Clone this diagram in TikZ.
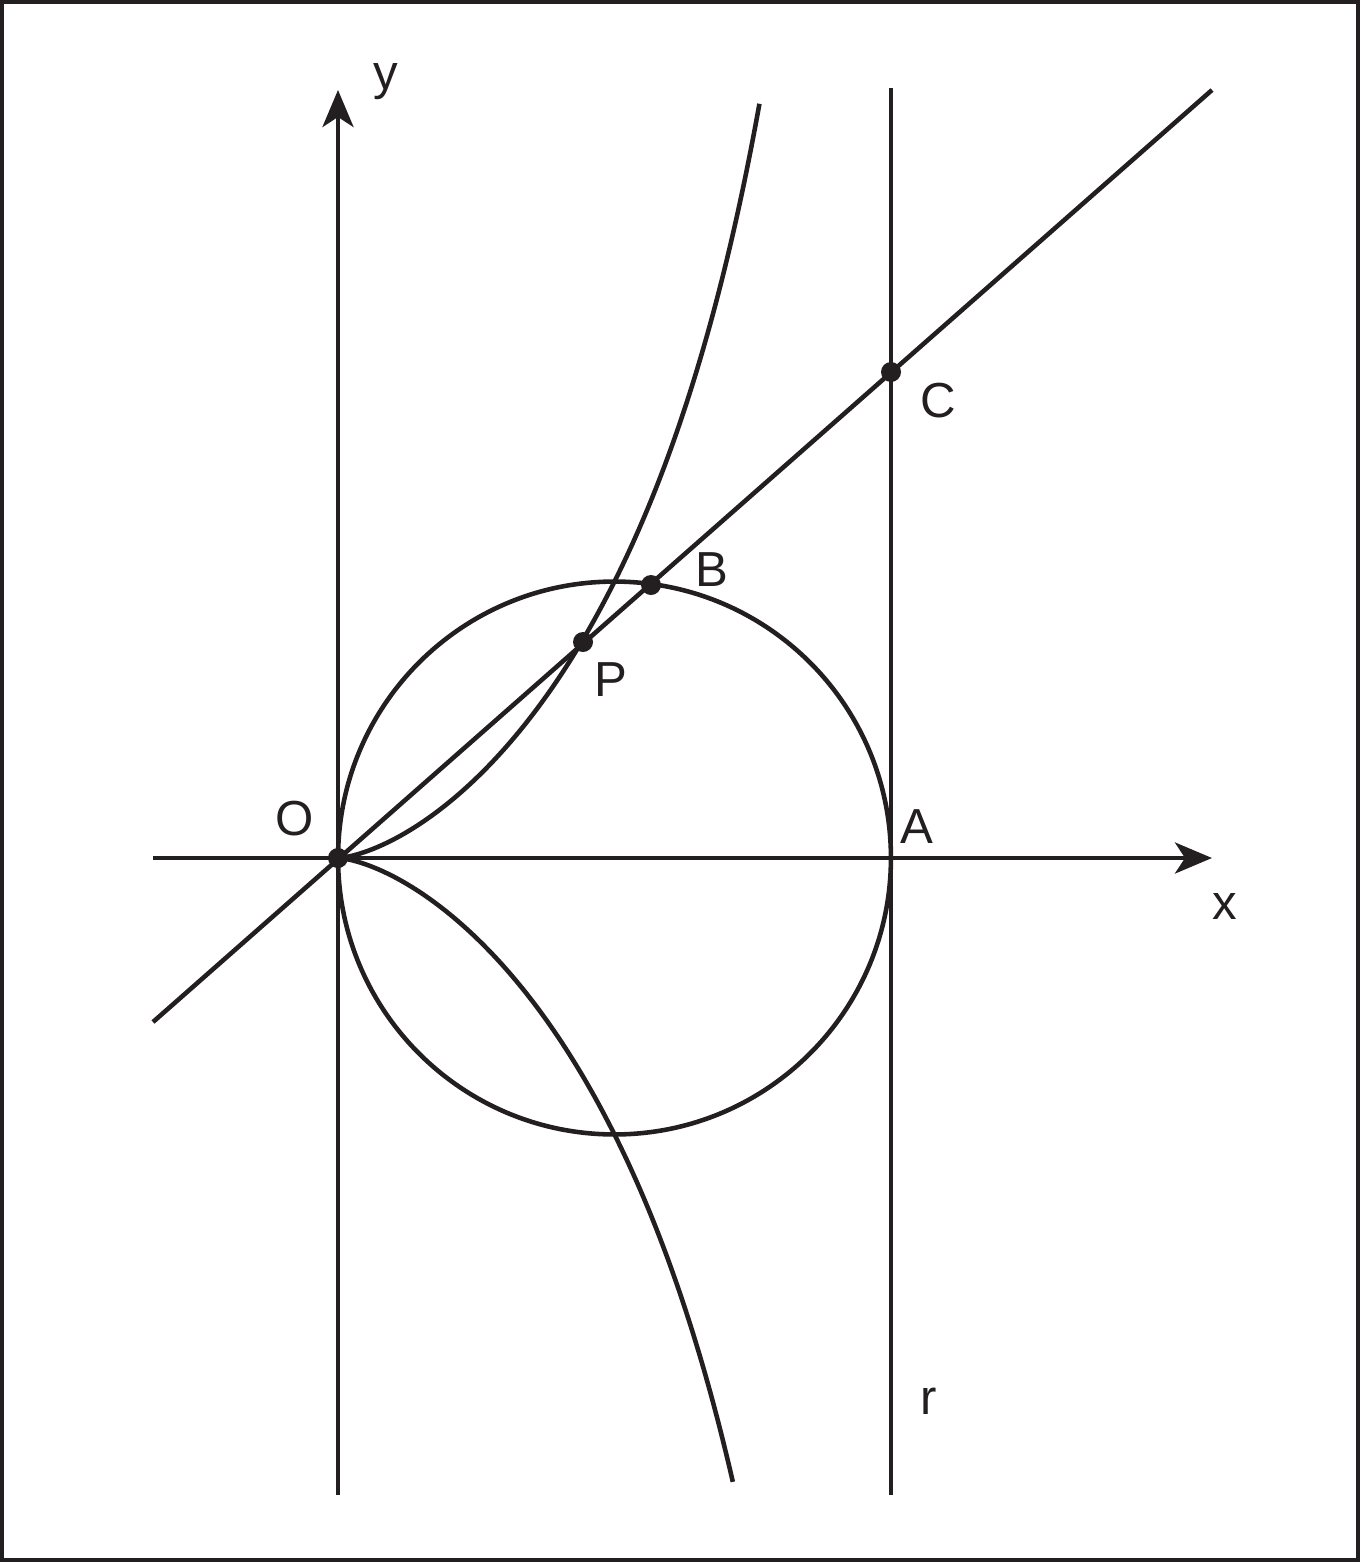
\documentclass[tikz,border=0pt]{standalone}
\usepackage{fontspec}
\setmainfont{Liberation Sans}
\usetikzlibrary{arrows.meta}
\definecolor{ink}{RGB}{35,31,32}
\begin{document}
\begin{tikzpicture}[x=0.02cm,y=-0.02cm,
  curve/.style={draw=ink,line width=2.6pt},
  axis/.style={curve,-{Stealth[length=0.74cm,width=0.62cm,inset=0.2cm]}},
  pt/.style={circle,fill=ink,inner sep=0pt,minimum size=0.4cm},
  lbl/.style={text=ink,inner sep=0pt,anchor=base,font=\fontsize{28}{34}\selectfont}]
\useasboundingbox (0,0) rectangle (1360,1562);
\draw[draw=ink,line width=1.8pt] (2,2) rectangle (1358,1560);
% coordinates
\coordinate (O) at (338,858);
\coordinate (A) at (891,858);
\coordinate (M) at (614.5,858);
\coordinate (xs) at (153,858);
\coordinate (xe) at (1212,858);
\coordinate (ys) at (338,1495);
\coordinate (ye) at (338,90);
\coordinate (rs) at (891,1495);
\coordinate (re) at (891,88);
\coordinate (ls) at (153,1022);
\coordinate (le) at (1212,90);
% axes
\draw[axis] (xs) -- (xe);
\draw[axis] (ys) -- (ye);
% line r
\draw[curve] (rs) -- (re);
% circle
\draw[curve] (M) circle [radius=5.53cm];
% secant line
\draw[curve] (ls) -- (le);
% cissoid
\draw[curve] plot[domain=-1.58:1.79,samples=240,smooth]
  ({338+553*\x*\x/(1+\x*\x)},{858-553*\x*\x*\x/(1+\x*\x)});
% points
\node[pt] (nO) at (O) {};
\node[pt] (nP) at (583,642) {};
\node[pt] (nB) at (651,585) {};
\node[pt] (nC) at (891,372) {};
% labels
\node[lbl] (ly) at (386,89) {y};
\node[lbl] (lO) at (295,835) {O};
\node[lbl] (lA) at (917,843) {A};
\node[lbl] (lx) at (1225,919) {x};
\node[lbl] (lC) at (938,417) {C};
\node[lbl] (lB) at (712,586) {B};
\node[lbl] (lP) at (611,696) {P};
\node[lbl] (lr) at (929,1414) {r};
\end{tikzpicture}
\end{document}
